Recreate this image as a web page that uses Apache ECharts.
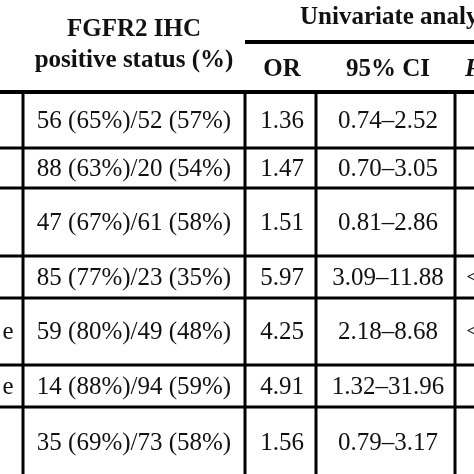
<!DOCTYPE html>
<html>
<head>
<meta charset="utf-8">
<script src="https://cdn.jsdelivr.net/npm/echarts@6/dist/echarts.min.js"></script>
<style>html,body{margin:0;padding:0;background:#fff}#c{width:474px;height:474px}</style>
</head>
<body>
<div id="c"></div>
<script>
// table contents
const positiveStatus = ['56 (65%)/52 (57%)', '88 (63%)/20 (54%)', '47 (67%)/61 (58%)', '85 (77%)/23 (35%)', '59 (80%)/49 (48%)', '14 (88%)/94 (59%)', '35 (69%)/73 (58%)']
const oddsRatio = ['1.36', '1.47', '1.51', '5.97', '4.25', '4.91', '1.56']
const ci95 = ['0.74\u20132.52', '0.70\u20133.05', '0.81\u20132.86', '3.09\u201311.88', '2.18\u20138.68', '1.32\u201331.96', '0.79\u20133.17']
const leftStub = ['', '', '', '', 'e', 'e', '']
const pStub = ['', '', '', '<', '<', '', '']

// layout
const rowLines = [92, 148, 188, 256, 298, 365, 407, 480]
const colLines = [23, 245, 316, 455]
const serif = '"Liberation Serif", "DejaVu Serif", serif'

const chart = echarts.init(document.getElementById('c'))
const g = []
function txt(x, y, s, opt) {
  g.push({type: 'text', x: x, y: y, style: Object.assign({text: s, font: '25px ' + serif, fill: '#111', align: 'center', verticalAlign: 'middle'}, opt || {})})
}
function line(x1, y1, x2, y2, w) {
  g.push({type: 'line', shape: {x1, y1, x2, y2}, style: {stroke: '#000', lineWidth: w || 3}})
}

// header
const hb = 'bold 25px ' + serif
txt(134, 30, 'FGFR2 IHC', {font: hb})
txt(134, 61, 'positive status (%)', {font: hb})
txt(300, 18, 'Univariate analysis', {font: hb, align: 'left'})
line(245, 42, 474, 42, 4)
txt(282, 70, 'OR', {font: hb})
txt(388, 70, '95% CI', {font: hb})
txt(465, 70, 'P', {font: 'italic bold 25px ' + serif, align: 'left'})
line(0, 92, 474, 92, 4)

// grid lines
for (let i = 1; i < rowLines.length - 1; i++) line(0, rowLines[i], 474, rowLines[i], 3)
colLines.forEach(x => line(x, 92, x, 474, 3))

// cells
positiveStatus.forEach((s, i) => {
  const yc = i === 6 ? 443 : (rowLines[i] + rowLines[i + 1]) / 2 + 1
  txt(134, yc, s)
  txt(282, yc, oddsRatio[i])
  txt(388, yc, ci95[i])
  if (leftStub[i]) txt(8, yc, leftStub[i])
  if (pStub[i]) txt(466, yc, pStub[i], {align: 'left'})
})

chart.setOption({animation: false, graphic: g})
</script>
</body>
</html>
